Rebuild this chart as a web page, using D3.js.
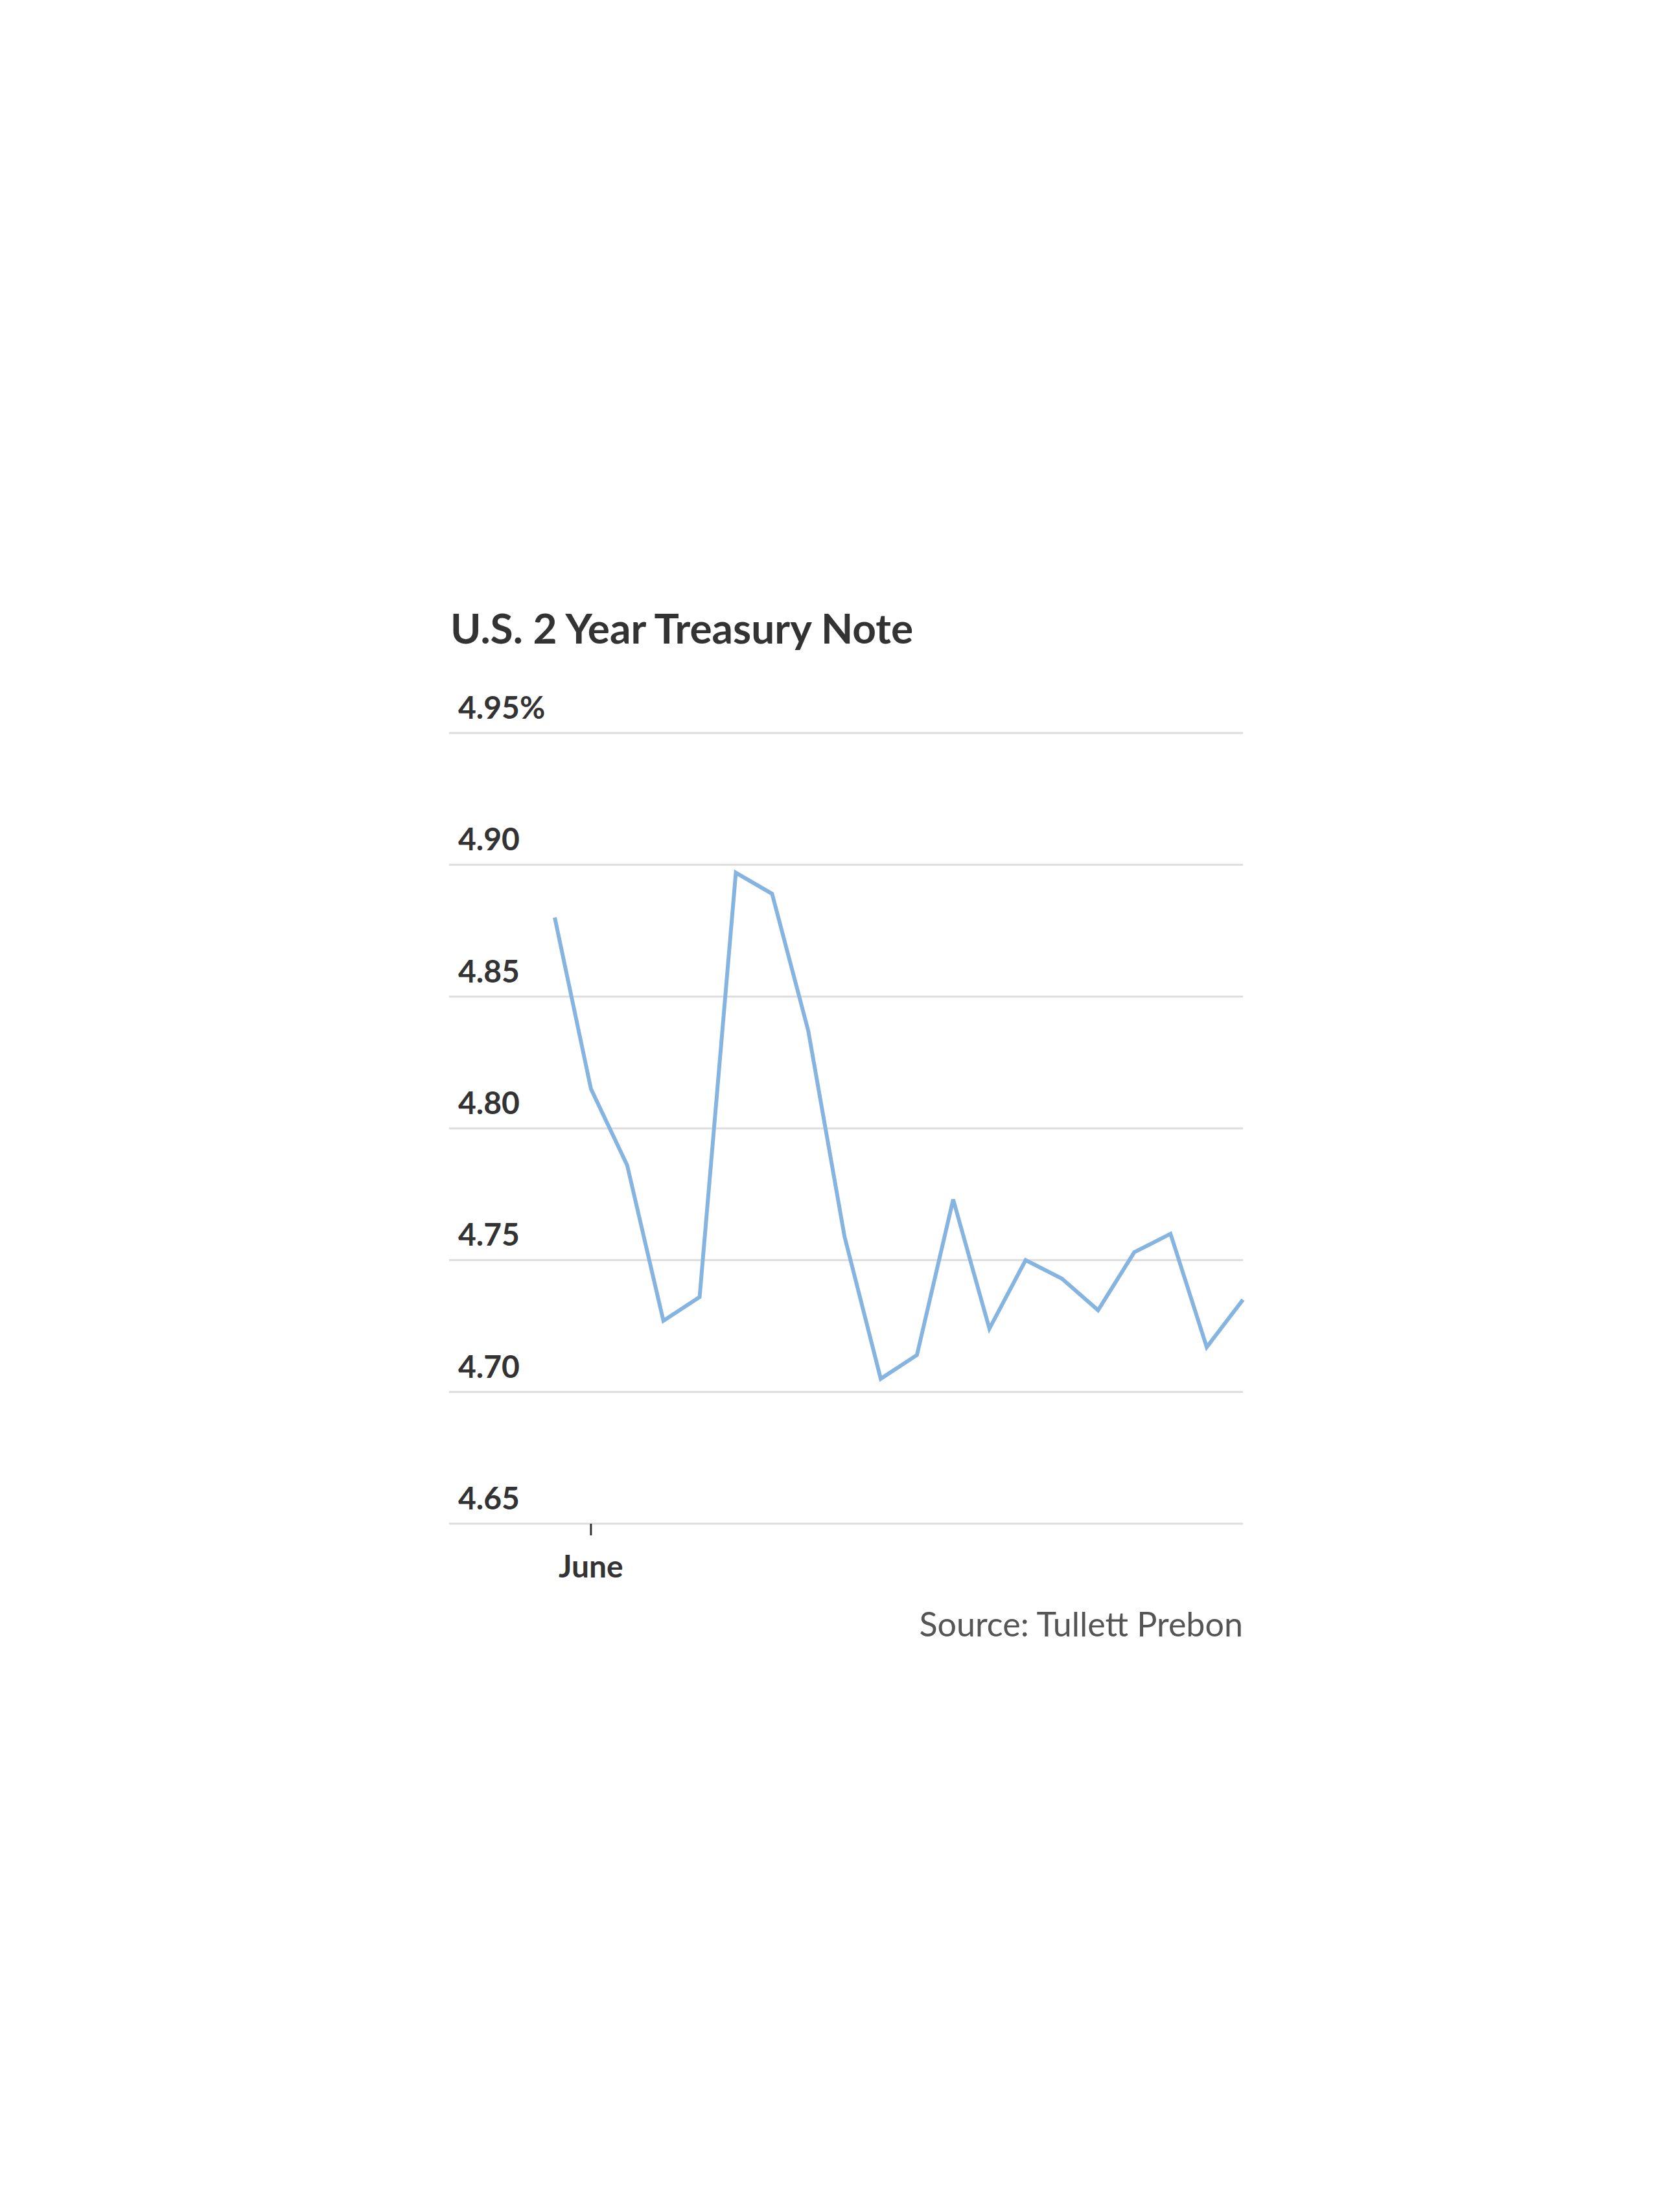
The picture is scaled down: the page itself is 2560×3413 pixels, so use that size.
<!DOCTYPE html>
<html><head><meta charset="utf-8">
<script src="https://cdn.jsdelivr.net/npm/d3@7"></script>
<style>body{margin:0;background:#fff}svg{display:block}text{font-family:Lato,"Open Sans",sans-serif}</style>
</head><body>
<script>
const dates = ["May 31","Jun 1","Jun 2","Jun 5","Jun 6","Jun 7","Jun 8","Jun 9","Jun 12","Jun 13","Jun 14","Jun 15","Jun 16","Jun 19","Jun 20","Jun 21","Jun 22","Jun 23","Jun 26","Jun 27"];
const yields = [4.880,4.815,4.786,4.727,4.736,4.897,4.889,4.837,4.759,4.705,4.714,4.773,4.724,4.750,4.743,4.731,4.753,4.760,4.717,4.735];
const yTicks = [4.65,4.70,4.75,4.80,4.85,4.90,4.95];
const xTickLabels = [{i:1,label:"June"}];

const W=2560,H=3413;
const svg=d3.select("body").append("svg").attr("width",W).attr("height",H);
const left=693,right=1918;
const y=d3.scaleLinear().domain([4.65,4.95]).range([2351,1131]);
const x=d3.scaleLinear().domain([0,dates.length-1]).range([856,1918]);

svg.append("text").attr("x",695).attr("y",993).attr("font-size",64).attr("font-weight",700).attr("fill","#333").text("U.S. 2 Year Treasury Note");

const g=svg.append("g");
yTicks.forEach(t=>{
  g.append("line").attr("x1",left).attr("x2",right).attr("y1",y(t)).attr("y2",y(t)).attr("stroke","#dddddd").attr("stroke-width",3);
  g.append("text").attr("x",707).attr("y",y(t)-22).attr("font-size",48).attr("font-weight",700).attr("fill","#333")
   .text(t===4.95?t.toFixed(2)+"%":t.toFixed(2));
});
xTickLabels.forEach(d=>{
  g.append("line").attr("x1",x(d.i)).attr("x2",x(d.i)).attr("y1",2351).attr("y2",2369).attr("stroke","#333").attr("stroke-width",3);
  g.append("text").attr("x",x(d.i)).attr("y",2434).attr("text-anchor","middle").attr("font-size",48).attr("font-weight",700).attr("fill","#333").text(d.label);
});
g.append("path").datum(yields).attr("fill","none").attr("stroke","#85b4e0").attr("stroke-width",6).attr("stroke-linejoin","miter")
 .attr("d",d3.line().x((d,i)=>x(i)).y(d=>y(d)));
svg.append("text").attr("x",right).attr("y",2525).attr("text-anchor","end").attr("font-size",52).attr("fill","#555").text("Source: Tullett Prebon");
</script>
</body></html>
